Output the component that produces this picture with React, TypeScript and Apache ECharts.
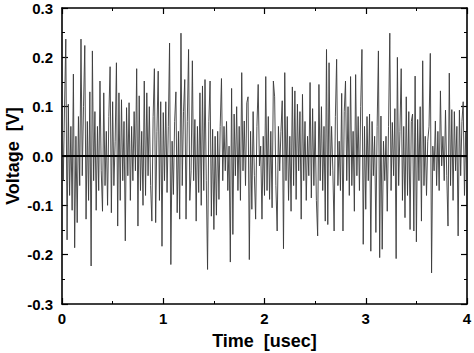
import React, { useEffect, useRef } from "react";
import * as echarts from "echarts";

const timeStep = 0.0125; // usec between samples
const voltage: number[] = [
  0.09, -0.05, 0.10, 0.237, -0.17, 0.105, -0.08, 0.06, -0.11, 0.166,
  -0.186, 0.04, -0.135, 0.08, -0.06, 0.237, -0.04, 0.10, 0.224, -0.128,
  0.07, -0.09, 0.13, -0.223, 0.213, -0.05, 0.09, -0.11, 0.06, -0.07,
  0.152, -0.03, -0.112, 0.128, -0.06, 0.05, -0.10, 0.08, 0.181, -0.115,
  0.11, -0.06, 0.03, 0.189, -0.142, 0.128, -0.09, 0.114, -0.05, 0.07,
  -0.172, 0.098, -0.04, 0.108, -0.09, 0.06, -0.05, 0.09, -0.03, 0.177,
  -0.142, 0.122, -0.07, 0.05, -0.10, 0.152, -0.08, 0.128, -0.04, 0.10,
  -0.06, -0.132, 0.08, 0.177, -0.135, 0.05, 0.172, -0.09, 0.11, -0.183,
  0.088, -0.05, 0.11, -0.074, 0.06, 0.229, -0.22, 0.03, -0.078, 0.07,
  0.13, -0.115, 0.05, -0.128, 0.249, -0.06, 0.09, 0.155, -0.128, 0.07,
  0.216, -0.09, -0.03, 0.193, -0.05, 0.074, -0.132, 0.06, -0.074, 0.128,
  -0.10, 0.142, -0.07, 0.155, -0.05, -0.23, 0.07, 0.152, -0.122, 0.054,
  -0.149, 0.04, -0.12, 0.05, -0.088, 0.06, 0.157, -0.05, 0.06, -0.03,
  0.07, -0.07, 0.02, -0.215, 0.137, -0.159, 0.085, -0.04, 0.10, -0.07,
  0.06, -0.09, 0.169, -0.03, 0.071, -0.06, 0.108, 0.12, -0.21, 0.05,
  -0.108, 0.09, -0.04, -0.128, 0.06, 0.145, -0.02, 0.02, -0.128, 0.04,
  -0.08, 0.161, -0.07, 0.08, -0.088, 0.05, -0.105, 0.152, 0.12, -0.06,
  -0.152, 0.06, -0.03, 0.05, 0.112, -0.188, 0.169, -0.05, 0.08, -0.09,
  0.04, -0.112, 0.14, -0.06, 0.132, -0.088, 0.105, -0.03, 0.09, -0.128,
  0.125, -0.05, 0.07, -0.09, 0.04, -0.04, 0.149, -0.085, 0.096, -0.06,
  0.07, -0.09, -0.162, 0.145, -0.05, 0.10, -0.07, 0.06, -0.132, 0.216,
  -0.139, 0.189, -0.04, 0.06, -0.03, -0.152, 0.08, 0.196, -0.06, 0.03,
  -0.07, 0.127, -0.152, 0.09, 0.152, -0.05, 0.10, -0.08, 0.161, -0.06,
  0.05, -0.112, 0.165, -0.04, 0.08, -0.07, 0.10, 0.216, -0.179, 0.06,
  -0.108, 0.08, -0.05, 0.085, -0.193, 0.07, -0.04, 0.04, -0.155, 0.06,
  0.213, -0.206, 0.081, -0.189, 0.03, -0.05, 0.04, -0.112, 0.06, 0.249,
  -0.07, 0.068, -0.04, 0.096, -0.208, 0.2, -0.06, 0.05, 0.177, -0.09,
  0.06, -0.125, 0.12, -0.08, 0.09, -0.149, 0.07, 0.085, -0.152, 0.162,
  -0.174, 0.074, -0.05, 0.10, -0.132, 0.193, -0.06, 0.04, -0.08, 0.03,
  0.06, 0.208, -0.237, 0.02, -0.03, 0.071, -0.06, 0.05, -0.07, 0.132,
  -0.02, 0.04, -0.05, 0.093, -0.04, -0.142, 0.168, -0.06, 0.094, -0.09,
  0.09, -0.03, 0.06, -0.162, 0.093, -0.04, 0.07, 0.11, -0.08, 0.05,
  -0.06,
];
const xTicks = [0, 1, 2, 3, 4];
const yTicks = [-0.3, -0.2, -0.1, 0.0, 0.1, 0.2, 0.3];

const FONT = "'Liberation Sans', Arial, sans-serif";

export default function App() {
  const ref = useRef<HTMLDivElement>(null);
  useEffect(() => {
    if (!ref.current) return;
    const chart = echarts.init(ref.current, undefined, { renderer: "svg" });
    const points = voltage.map((v, i) => [i * timeStep, v]);
    const baseAxis = {
      axisLine: { show: true, onZero: false, lineStyle: { color: "#000", width: 1.6 } },
      axisTick: { show: true, inside: true, length: 6, lineStyle: { color: "#000", width: 1.2 } },
      minorTick: { show: true, splitNumber: 2, length: 3, lineStyle: { color: "#000", width: 1 } },
      splitLine: { show: false },
      minorSplitLine: { show: false },
    };
    chart.setOption({
      animation: false,
      backgroundColor: "#fff",
      grid: {
        left: 62,
        top: 8,
        width: 405,
        height: 296,
        containLabel: false,
        outerBoundsMode: "none",
      },
      xAxis: [
        {
          ...baseAxis,
          type: "value",
          min: xTicks[0],
          max: xTicks[xTicks.length - 1],
          interval: 1,
          position: "bottom",
          name: "Time  [usec]",
          nameLocation: "middle",
          nameGap: 28,
          nameTextStyle: { fontFamily: FONT, fontWeight: "bold", fontSize: 18, color: "#000" },
          axisLabel: { fontFamily: FONT, fontWeight: "bold", fontSize: 15, color: "#000", margin: 7 },
        },
        {
          ...baseAxis,
          type: "value",
          min: xTicks[0],
          max: xTicks[xTicks.length - 1],
          interval: 1,
          position: "top",
          axisLabel: { show: false },
        },
      ],
      yAxis: [
        {
          ...baseAxis,
          type: "value",
          min: yTicks[0],
          max: yTicks[yTicks.length - 1],
          interval: 0.1,
          position: "left",
          name: "Voltage  [V]",
          nameLocation: "middle",
          nameGap: 40,
          nameMoveOverlap: false,
          nameTextStyle: { fontFamily: FONT, fontWeight: "bold", fontSize: 18, color: "#000" },
          axisLabel: {
            fontFamily: FONT,
            fontWeight: "bold",
            fontSize: 15,
            color: "#000",
            margin: 9,
            formatter: (v: number) => v.toFixed(1),
          },
        },
        {
          ...baseAxis,
          type: "value",
          min: yTicks[0],
          max: yTicks[yTicks.length - 1],
          interval: 0.1,
          position: "right",
          axisLabel: { show: false },
        },
      ],
      series: [
        {
          type: "line",
          data: points,
          showSymbol: false,
          symbol: "none",
          lineStyle: { color: "#3a3a3a", width: 0.9 },
          markLine: {
            silent: true,
            symbol: ["none", "none"],
            label: { show: false },
            lineStyle: { color: "#000", width: 2, type: "solid" },
            data: [{ yAxis: 0 }],
          },
        },
      ],
    });
    return () => chart.dispose();
  }, []);
  return (
    <div
      ref={ref}
      style={{ position: "fixed", left: 0, top: 0, width: 474, height: 353, background: "#fff" }}
    />
  );
}
